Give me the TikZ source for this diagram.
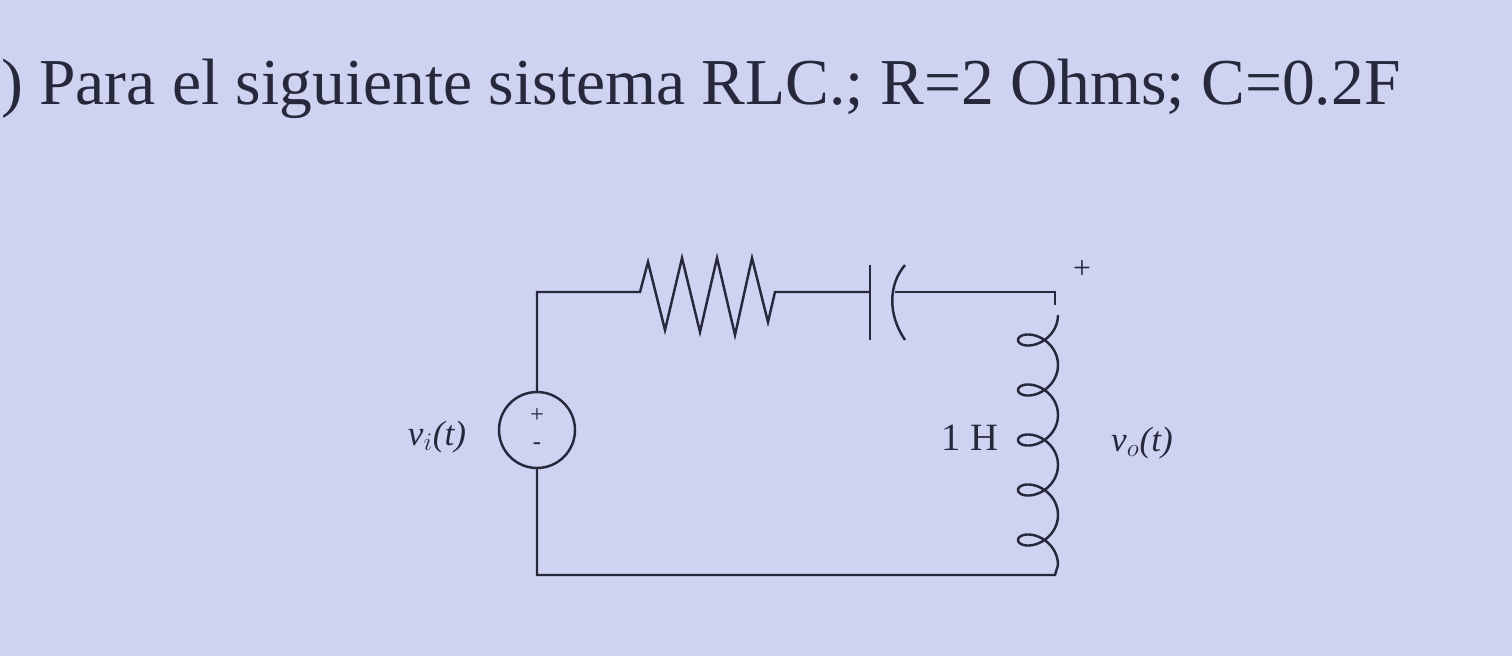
\documentclass[tikz,border=0pt]{standalone}
\usepackage{fontspec}
\setmainfont{Liberation Serif}
\begin{document}
\begin{tikzpicture}[x=0.02cm,y=-0.02cm,line width=1.4pt,
  wire/.style={draw=ink,line width=1.4pt},
  lbl/.style={text=ink,font=\fontsize{20}{22}\selectfont\itshape}]
\definecolor{bg}{RGB}{206,211,242}
\definecolor{ink}{RGB}{40,40,60}
\fill[bg] (0,0) rectangle (1512,656);
\useasboundingbox (0,0) rectangle (1512,656);
\node[anchor=base west,text=ink,inner sep=0,font=\fontsize{37.3}{40}\selectfont] (title) at (0,104) {) Para el siguiente sistema RLC.; R=2 Ohms; C=0.2F};
% coordinates
\coordinate (tl) at (537,292);
\coordinate (r1) at (640,292);
\coordinate (r2) at (775,292);
\coordinate (c1) at (870,292);
\coordinate (c2) at (895,292);
\coordinate (tr) at (1055,292);
\coordinate (l1) at (1055,305);
\coordinate (l2) at (1055,575);
\coordinate (bl) at (537,575);
\node[circle,draw=ink,line width=1.4pt,minimum size=1.52cm,inner sep=0] (src) at (537,430) {};
\node[text=ink,inner sep=0,font=\fontsize{14}{14}\selectfont] (sp) at (537,416) {+};
\node[text=ink,inner sep=0,font=\fontsize{14}{14}\selectfont] (sm) at (537,446) {-};
\draw[wire] (src.north) -- (tl) -- (r1)
  -- (648,262) -- (665,330) -- (682,258) -- (700,332) -- (717,258) -- (735,335) -- (752,258) -- (768,322) -- (r2) -- (c1);
\draw[wire] (870,265) -- (870,340);
\draw[wire] (905,265) .. controls (888,285) and (888,315) .. (905,340);
\draw[wire] (c2) -- (tr) -- (l1);
\draw[wire,domain=0:5*360,samples=300,smooth,variable=\t]
  plot ({1038+20*cos(\t)}, {315+\t/360*50+16*sin(\t)});
\draw[wire] (1058,565) -- (l2) -- (bl) -- (src.south);
\node[lbl] (vi) at (437,437) {v$_i$(t)};
\node[text=ink,font=\fontsize{22}{22}\selectfont] (lh) at (970,438) {1 H};
\node[lbl] (vo) at (1142,443) {v$_o$(t)};
\node[text=ink,font=\fontsize{18}{18}\selectfont] (plus) at (1082,270) {+};
\end{tikzpicture}
\end{document}
